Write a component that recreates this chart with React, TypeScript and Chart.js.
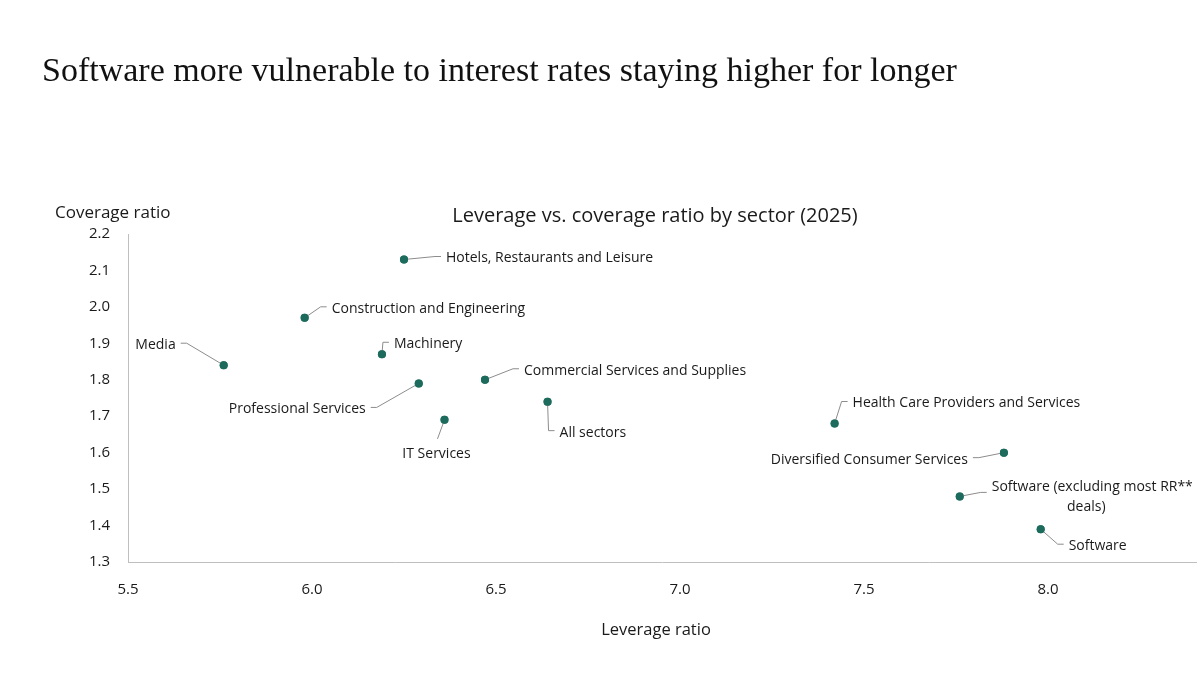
import React, { useEffect, useRef } from "react";
import { Chart, registerables } from "chart.js";

Chart.register(...registerables);

const SECTORS = [
  "Hotels, Restaurants and Leisure",
  "Construction and Engineering",
  "Media",
  "Machinery",
  "Professional Services",
  "Commercial Services and Supplies",
  "IT Services",
  "All sectors",
  "Health Care Providers and Services",
  "Diversified Consumer Services",
  "Software (excluding most RR**\ndeals)",
  "Software",
];
const LEVERAGE = [6.25, 5.98, 5.76, 6.19, 6.29, 6.47, 6.36, 6.64, 7.42, 7.88, 7.76, 7.98];
const COVERAGE = [2.13, 1.97, 1.84, 1.87, 1.79, 1.8, 1.69, 1.74, 1.68, 1.6, 1.48, 1.39];
const X_TICKS = [5.5, 6.0, 6.5, 7.0, 7.5, 8.0];
const Y_TICKS = [1.3, 1.4, 1.5, 1.6, 1.7, 1.8, 1.9, 2.0, 2.1, 2.2];

const TITLE = "Software more vulnerable to interest rates staying higher for longer";
const SUBTITLE = "Leverage vs. coverage ratio by sector (2025)";
const X_TITLE = "Leverage ratio";
const Y_TITLE = "Coverage ratio";

// label placement relative to each point (pixels): text offset, alignment, optional line end override
const LABEL_LAYOUT: { dx: number; dy: number; align: "left" | "right" | "center"; lx?: number; ly?: number }[] = [
  { dx: 42, dy: -3, align: "left" },
  { dx: 27, dy: -11, align: "left" },
  { dx: -48, dy: -22, align: "right" },
  { dx: 12, dy: -12, align: "left" },
  { dx: -53, dy: 24, align: "right" },
  { dx: 39, dy: -11, align: "left" },
  { dx: -8, dy: 32, align: "center" },
  { dx: 12, dy: 29, align: "left" },
  { dx: 18, dy: -22, align: "left" },
  { dx: -36, dy: 5, align: "right" },
  { dx: 32, dy: -11, align: "left", ly: -4 },
  { dx: 28, dy: 15, align: "left" },
];

const SANS = '"Open Sans", "Noto Sans", sans-serif';
const POINT_COLOR = "#1c6b5c";

const labelPlugin = {
  id: "sectorLabels",
  afterDatasetsDraw(chart: any) {
    const ctx = chart.ctx;
    const meta = chart.getDatasetMeta(0);
    ctx.save();
    ctx.font = `14px ${SANS}`;
    ctx.textBaseline = "middle";
    meta.data.forEach((pt: any, i: number) => {
      const L = LABEL_LAYOUT[i];
      const px = pt.x;
      const py = pt.y;
      const tx = px + L.dx;
      const ty = py + L.dy;
      ctx.strokeStyle = "#8c8c8c";
      ctx.lineWidth = 1;
      ctx.beginPath();
      if (L.align === "center") {
        ctx.moveTo(px, py);
        ctx.lineTo(tx + 1, ty - 13);
      } else {
        const sgn = L.align === "left" ? -1 : 1;
        const ly = py + (L.ly !== undefined ? L.ly : L.dy);
        const end = tx + sgn * 5;
        const elbow = tx + sgn * 11;
        ctx.moveTo(px, py);
        ctx.lineTo(elbow, ly);
        ctx.lineTo(end, ly);
      }
      ctx.stroke();
      ctx.fillStyle = "#1a1a1a";
      const lines = SECTORS[i].split("\n");
      const tyText = ty + 2;
      if (lines.length > 1) {
        ctx.textAlign = "left";
        ctx.fillText(lines[0], tx, tyText);
        const w = ctx.measureText(lines[0]).width;
        ctx.textAlign = "center";
        ctx.fillText(lines[1], tx + w / 2 - 6, tyText + 20);
      } else {
        ctx.textAlign = L.align;
        ctx.fillText(lines[0], tx, tyText);
      }
    });
    meta.data.forEach((pt: any) => {
      ctx.beginPath();
      ctx.arc(pt.x, pt.y, 4, 0, Math.PI * 2);
      ctx.fillStyle = POINT_COLOR;
      ctx.fill();
    });
    ctx.restore();
  },
  afterDraw(chart: any) {
    const ctx = chart.ctx;
    const area = chart.chartArea;
    ctx.save();
    ctx.fillStyle = "#111";
    ctx.textBaseline = "alphabetic";
    ctx.textAlign = "left";
    ctx.font = `34px "Liberation Serif", "DejaVu Serif", serif`;
    ctx.fillText(TITLE, 42, 81);
    ctx.textBaseline = "middle";
    ctx.fillStyle = "#1a1a1a";
    ctx.font = `20px ${SANS}`;
    ctx.textAlign = "center";
    ctx.fillText(SUBTITLE, 655, 216);
    ctx.font = `17px ${SANS}`;
    ctx.textAlign = "left";
    ctx.fillText(Y_TITLE, 55, 213);
    ctx.font = `16.5px ${SANS}`;
    ctx.textAlign = "center";
    ctx.fillText(X_TITLE, 656, area.bottom + 68);
    ctx.restore();
  },
};

export default function App() {
  const ref = useRef<HTMLCanvasElement | null>(null);
  useEffect(() => {
    if (!ref.current) return;
    const chart = new Chart(ref.current, {
      type: "scatter",
      data: {
        datasets: [
          {
            data: LEVERAGE.map((x, i) => ({ x, y: COVERAGE[i] })),
            backgroundColor: POINT_COLOR,
            borderColor: POINT_COLOR,
            pointRadius: 4,
            borderWidth: 0,
          },
        ],
      },
      options: {
        responsive: false,
        animation: false,
        layout: { padding: { top: 234, right: 0, bottom: 0, left: 0 } },
        plugins: {
          legend: { display: false },
          tooltip: { enabled: false },
          title: { display: false },
        },
        scales: {
          x: {
            type: "linear",
            min: 5.5,
            max: 8.402,
            afterBuildTicks: (s: any) => {
              s.ticks = X_TICKS.map((v) => ({ value: v }));
            },
            afterFit: (s: any) => {
              s.height = 113;
            },
            grid: { display: false, drawTicks: false },
            border: { display: true, color: "#bfbfbf", width: 1 },
            ticks: {
              padding: 19,
              color: "#1a1a1a",
              font: { family: SANS, size: 15 },
              maxRotation: 0,
              callback: (v: any) => Number(v).toFixed(1),
            },
          },
          y: {
            type: "linear",
            min: 1.3,
            max: 2.2,
            afterBuildTicks: (s: any) => {
              s.ticks = Y_TICKS.map((v) => ({ value: v }));
            },
            afterFit: (s: any) => {
              s.width = 128;
            },
            grid: { display: false, drawTicks: false },
            border: { display: true, color: "#bfbfbf", width: 1 },
            ticks: {
              padding: 18,
              color: "#1a1a1a",
              font: { family: SANS, size: 15 },
              callback: (v: any) => Number(v).toFixed(1),
            },
          },
        },
      },
      plugins: [labelPlugin],
    });
    return () => chart.destroy();
  }, []);
  return (
    <div style={{ position: "absolute", left: 0, top: 0, width: 1200, height: 675, background: "#fff" }}>
      <canvas ref={ref} width={1200} height={675} style={{ display: "block" }} />
    </div>
  );
}
